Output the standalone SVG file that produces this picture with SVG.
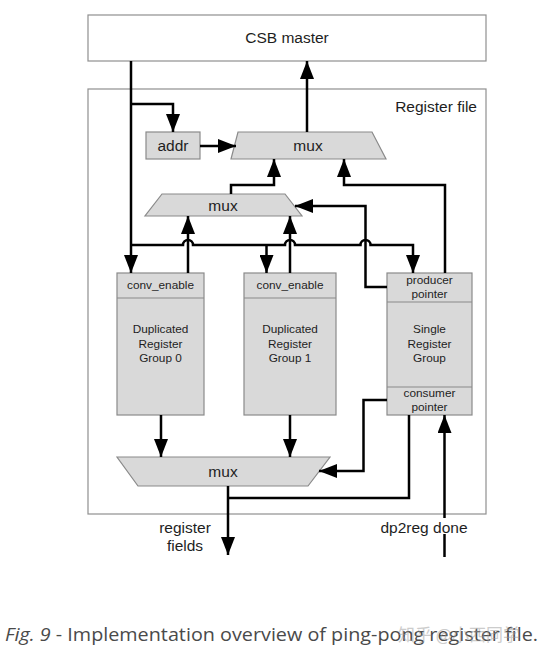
<svg xmlns="http://www.w3.org/2000/svg" width="548" height="656" viewBox="0 0 548 656">
<defs>
<marker id="ah" markerUnits="userSpaceOnUse" markerWidth="18" markerHeight="14" refX="18" refY="7" orient="auto">
<path d="M0,0 L18,7 L0,14 z" fill="#000"/>
</marker>
<style>
.frame{fill:#fff;stroke:#8f8f8f;stroke-width:1.2}
.blk{fill:#d9d9d9;stroke:#8a8a8a;stroke-width:1.2}
.div{stroke:#8a8a8a;stroke-width:1.2}
.w{stroke:#000;stroke-width:2.5;fill:none}
.a{marker-end:url(#ah)}
.t{font-family:"Liberation Sans",Arial,sans-serif;fill:#1e1e1e;text-anchor:middle}
.big{font-size:15.5px}
.sm{font-size:11.8px}
</style>
</defs>
<rect width="548" height="656" fill="#fff"/>

<g id="csb-master">
<rect class="frame" x="88" y="15" width="398" height="46"/>
<text class="t big" x="287" y="43">CSB master</text>
</g>

<g id="register-file">
<rect class="frame" x="88" y="89" width="398" height="425"/>
<text class="t big" x="477" y="112" style="text-anchor:end">Register file</text>
</g>

<g id="addr">
<rect class="blk" x="146" y="132" width="54" height="27"/>
<text class="t big" x="173" y="151">addr</text>
</g>

<g id="mux-top">
<polygon class="blk" points="238,132 372,132 386,159 231,159"/>
<text class="t big" x="308" y="151">mux</text>
</g>

<g id="mux-mid">
<polygon class="blk" points="162,194 285,194 302,216 145,216"/>
<text class="t big" x="223" y="211">mux</text>
</g>

<g id="mux-bottom">
<polygon class="blk" points="117,457 330,457 308,486 138,486"/>
<text class="t big" x="223" y="477">mux</text>
</g>

<g id="group0">
<rect class="blk" x="117" y="273" width="87" height="142"/>
<line class="div" x1="117" y1="298" x2="204" y2="298"/>
<text class="t sm" x="160.5" y="289">conv_enable</text>
<text class="t sm" x="160.5" y="333">Duplicated</text>
<text class="t sm" x="160.5" y="347.5">Register</text>
<text class="t sm" x="160.5" y="362">Group 0</text>
</g>

<g id="group1">
<rect class="blk" x="244" y="273" width="92" height="142"/>
<line class="div" x1="244" y1="298" x2="336" y2="298"/>
<text class="t sm" x="290" y="289">conv_enable</text>
<text class="t sm" x="290" y="333">Duplicated</text>
<text class="t sm" x="290" y="347.5">Register</text>
<text class="t sm" x="290" y="362">Group 1</text>
</g>

<g id="single-group">
<rect class="blk" x="387" y="273" width="85" height="142"/>
<line class="div" x1="387" y1="302" x2="472" y2="302"/>
<line class="div" x1="387" y1="387" x2="472" y2="387"/>
<text class="t sm" x="429.5" y="284">producer</text>
<text class="t sm" x="429.5" y="298">pointer</text>
<text class="t sm" x="429.5" y="333">Single</text>
<text class="t sm" x="429.5" y="347.5">Register</text>
<text class="t sm" x="429.5" y="362">Group</text>
<text class="t sm" x="429.5" y="397">consumer</text>
<text class="t sm" x="429.5" y="411">pointer</text>
</g>

<g id="connectors">
<path class="w a" d="M131,61 V273"/>
<path class="w a" d="M131,104 H173 V132"/>
<path class="w a" d="M200,146 H236"/>
<path class="w a" d="M307,132 V61"/>
<path class="w a" d="M231,194 V185 H274 V159"/>
<path class="w a" d="M445,273 V185 H344 V159"/>
<path class="w a" d="M387,287 H365.5 V206 H295"/>
<path class="w a" d="M131,245 H183 A5,5 0 0 1 193,245 H285 A5,5 0 0 1 295,245 H360.5 A5,5 0 0 1 370.5,245 H413 V273"/>
<path class="w a" d="M266.5,245 V273"/>
<path class="w a" d="M188,273 V216"/>
<path class="w a" d="M290,273 V216"/>
<path class="w a" d="M161,415 V457"/>
<path class="w a" d="M290,415 V457"/>
<path class="w a" d="M387,400 H363.5 V471 H319"/>
<path class="w" d="M409,415 V498 H228"/>
<path class="w a" d="M228,486 V555"/>
<path class="w a" d="M444.5,557 V415"/>
</g>

<g id="labels">
<text class="t big" x="185" y="533">register</text>
<text class="t big" x="185" y="551">fields</text>
<rect x="380" y="518" width="90" height="16" fill="#fff"/>
<text class="t big" x="424" y="533">dp2reg done</text>
</g>

<g id="caption">
<text x="5" y="641" font-family="'Open Sans','Noto Sans',sans-serif" font-size="19" fill="#4a4a4a" textLength="533" lengthAdjust="spacingAndGlyphs"><tspan font-style="italic">Fig. 9</tspan> - Implementation overview of ping-pong register file.</text>
<text x="398" y="641" font-family="'Noto Sans CJK SC','Noto Sans',sans-serif" font-size="17" fill="#9a9a9a" opacity="0.5">知乎 @小西同学</text>
</g>
</svg>
